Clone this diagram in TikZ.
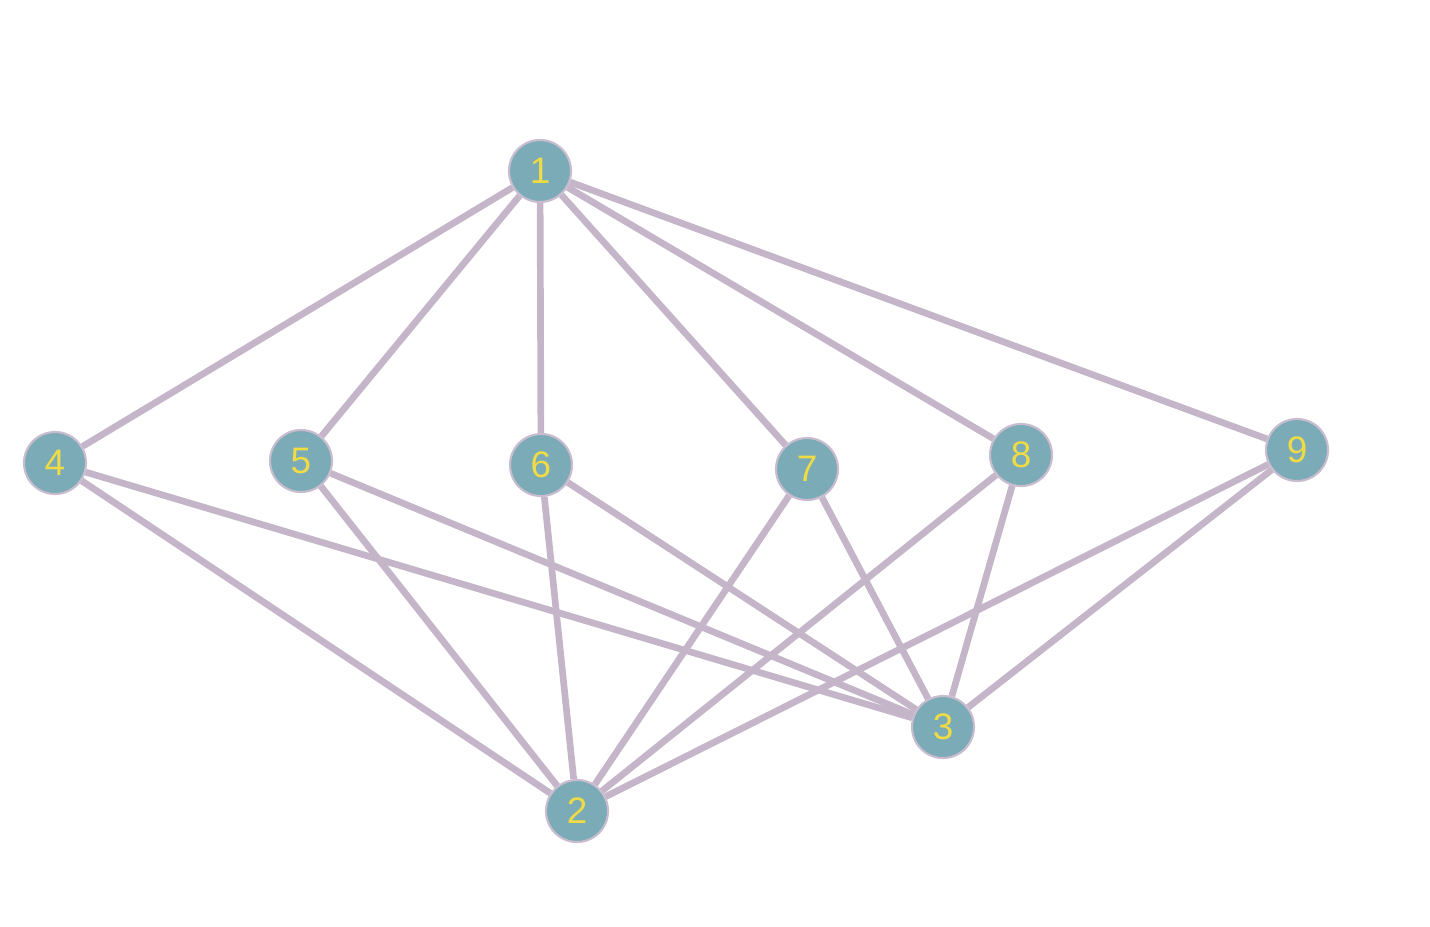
\documentclass[tikz,border=0pt]{standalone}
\usepackage{fontspec}
\setmainfont{Liberation Sans}
\definecolor{nodefill}{HTML}{7AABB7}
\definecolor{nodeline}{HTML}{C8BCCE}
\definecolor{edgecol}{HTML}{C4B5C9}
\definecolor{txt}{HTML}{EEDB45}
\tikzset{
  vert/.style={circle, fill=nodefill, draw=nodeline, line width=0.6pt, minimum size=0.62cm, inner sep=0pt, text=txt, font=\fontsize{10.5}{10.5}\selectfont},
  edge/.style={draw=edgecol, line width=1.9pt}
}
\begin{document}
\begin{tikzpicture}[x=1cm,y=1cm]
\useasboundingbox (0,0) rectangle (14.30,9.26);
\node[vert] (n1) at (5.40,7.55) {1};
\node[vert] (n4) at (0.55,4.63) {4};
\node[vert] (n5) at (3.01,4.65) {5};
\node[vert] (n6) at (5.41,4.61) {6};
\node[vert] (n7) at (8.07,4.57) {7};
\node[vert] (n8) at (10.21,4.71) {8};
\node[vert] (n9) at (12.97,4.76) {9};
\node[vert] (n3) at (9.43,1.99) {3};
\node[vert] (n2) at (5.77,1.15) {2};
\foreach \a/\b in {n1/n4,n1/n5,n1/n6,n1/n7,n1/n8,n1/n9,n4/n3,n4/n2,n5/n3,n5/n2,n6/n2,n6/n3,n7/n2,n7/n3,n8/n2,n8/n3,n9/n2,n9/n3}
  \path[edge] (\a) -- (\b);
\end{tikzpicture}
\end{document}
